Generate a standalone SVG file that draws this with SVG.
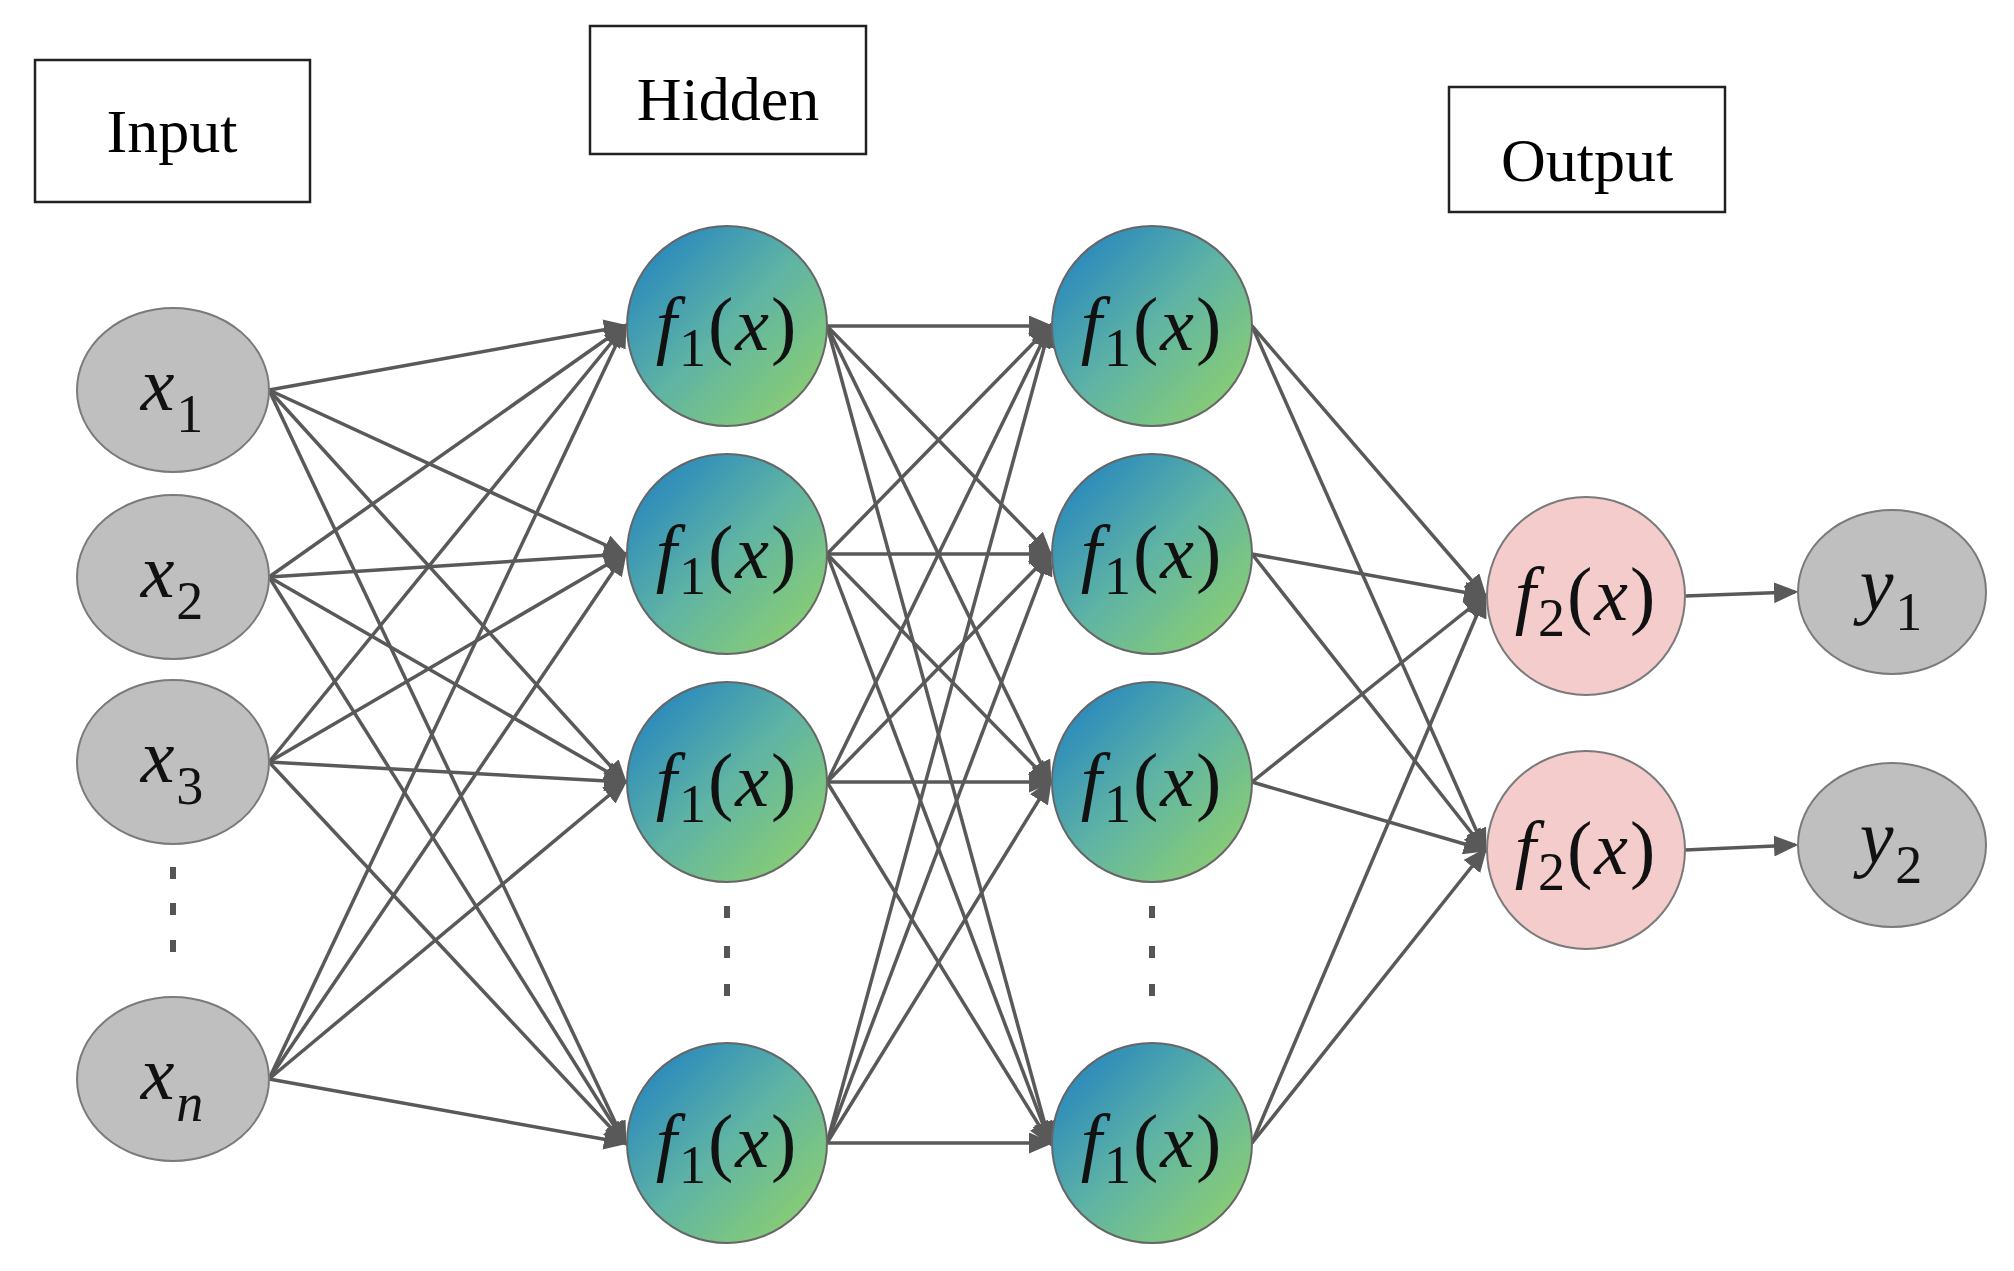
<svg xmlns="http://www.w3.org/2000/svg" width="2014" height="1271" viewBox="0 0 2014 1271">
<style>
.box{fill:#fff;stroke:#222;stroke-width:2.5}
.lbl{font-family:"Liberation Serif",serif;font-size:62px;fill:#000;text-anchor:middle}
.gray{fill:#bfbfbf;stroke:#7a7a7a;stroke-width:2}
.hid{fill:url(#g);stroke:#666;stroke-width:2}
.pink{fill:#f4cccc;stroke:#7a7a7a;stroke-width:2}
.m{font-family:"Liberation Serif",serif;font-size:76px;fill:#111;text-anchor:middle;font-style:italic;letter-spacing:2px}
.s{font-style:normal;font-size:54px}
.e line{stroke:#595959;stroke-width:3.5;marker-end:url(#a)}
.dot{fill:#555}
</style>
<defs>
<linearGradient id="g" x1="0" y1="0" x2="1" y2="1"><stop offset="0" stop-color="#1a7cc4"/><stop offset="0.5" stop-color="#5fb4a4"/><stop offset="1" stop-color="#95d466"/></linearGradient>
<marker id="a" markerWidth="7" markerHeight="6" refX="6" refY="3" orient="auto" markerUnits="strokeWidth"><path d="M0,0L7,3L0,6Z" fill="#595959"/></marker>
</defs>
<g id="labels">
<g id="input-label"><rect class="box" x="35" y="60" width="275" height="142"/><text class="lbl" x="172" y="152">Input</text></g>
<g id="hidden-label"><rect class="box" x="590" y="26" width="276" height="128"/><text class="lbl" x="728" y="120">Hidden</text></g>
<g id="output-label"><rect class="box" x="1449" y="87" width="276" height="125"/><text class="lbl" x="1587" y="181">Output</text></g>
</g>
<g id="connectors" class="e">
<line x1="269" y1="390" x2="625" y2="326"/><line x1="269" y1="390" x2="625" y2="554"/><line x1="269" y1="390" x2="625" y2="782"/><line x1="269" y1="390" x2="625" y2="1143"/>
<line x1="269" y1="577" x2="625" y2="326"/><line x1="269" y1="577" x2="625" y2="554"/><line x1="269" y1="577" x2="625" y2="782"/><line x1="269" y1="577" x2="625" y2="1143"/>
<line x1="269" y1="762" x2="625" y2="326"/><line x1="269" y1="762" x2="625" y2="554"/><line x1="269" y1="762" x2="625" y2="782"/><line x1="269" y1="762" x2="625" y2="1143"/>
<line x1="269" y1="1079" x2="625" y2="326"/><line x1="269" y1="1079" x2="625" y2="554"/><line x1="269" y1="1079" x2="625" y2="782"/><line x1="269" y1="1079" x2="625" y2="1143"/>
<line x1="827" y1="326" x2="1050" y2="326"/><line x1="827" y1="326" x2="1050" y2="554"/><line x1="827" y1="326" x2="1050" y2="782"/><line x1="827" y1="326" x2="1050" y2="1143"/>
<line x1="827" y1="554" x2="1050" y2="326"/><line x1="827" y1="554" x2="1050" y2="554"/><line x1="827" y1="554" x2="1050" y2="782"/><line x1="827" y1="554" x2="1050" y2="1143"/>
<line x1="827" y1="782" x2="1050" y2="326"/><line x1="827" y1="782" x2="1050" y2="554"/><line x1="827" y1="782" x2="1050" y2="782"/><line x1="827" y1="782" x2="1050" y2="1143"/>
<line x1="827" y1="1143" x2="1050" y2="326"/><line x1="827" y1="1143" x2="1050" y2="554"/><line x1="827" y1="1143" x2="1050" y2="782"/><line x1="827" y1="1143" x2="1050" y2="1143"/>
<line x1="1252" y1="326" x2="1485" y2="596"/><line x1="1252" y1="326" x2="1485" y2="850"/>
<line x1="1252" y1="554" x2="1485" y2="596"/><line x1="1252" y1="554" x2="1485" y2="850"/>
<line x1="1252" y1="782" x2="1485" y2="596"/><line x1="1252" y1="782" x2="1485" y2="850"/>
<line x1="1252" y1="1143" x2="1485" y2="596"/><line x1="1252" y1="1143" x2="1485" y2="850"/>
<line x1="1685" y1="596" x2="1795" y2="592"/><line x1="1685" y1="850" x2="1795" y2="845"/>
</g>
<g id="x1"><ellipse class="gray" cx="173" cy="390" rx="96" ry="82"/><text class="m" x="173" y="410">x<tspan class="s" dy="22">1</tspan></text></g>
<g id="x2"><ellipse class="gray" cx="173" cy="577" rx="96" ry="82"/><text class="m" x="173" y="597">x<tspan class="s" dy="22">2</tspan></text></g>
<g id="x3"><ellipse class="gray" cx="173" cy="762" rx="96" ry="82"/><text class="m" x="173" y="782">x<tspan class="s" dy="22">3</tspan></text></g>
<g id="xn"><ellipse class="gray" cx="173" cy="1079" rx="96" ry="82"/><text class="m" x="173" y="1099">x<tspan class="s" style="font-style:italic" dy="22">n</tspan></text></g>
<g id="dots"><rect class="dot" x="170" y="867" width="6" height="12"/><rect class="dot" x="170" y="903" width="6" height="12"/><rect class="dot" x="170" y="940" width="6" height="12"/>
<rect class="dot" x="724" y="906" width="6" height="12"/><rect class="dot" x="724" y="946" width="6" height="12"/><rect class="dot" x="724" y="984" width="6" height="12"/>
<rect class="dot" x="1149" y="906" width="6" height="12"/><rect class="dot" x="1149" y="946" width="6" height="12"/><rect class="dot" x="1149" y="984" width="6" height="12"/></g>
<g id="h1a"><circle class="hid" cx="727" cy="326" r="100"/><text class="m" x="727" y="350">f<tspan class="s" dy="16">1</tspan><tspan dy="-16" style="font-style:normal">(</tspan>x<tspan style="font-style:normal">)</tspan></text></g>
<g id="h1b"><circle class="hid" cx="727" cy="554" r="100"/><text class="m" x="727" y="578">f<tspan class="s" dy="16">1</tspan><tspan dy="-16" style="font-style:normal">(</tspan>x<tspan style="font-style:normal">)</tspan></text></g>
<g id="h1c"><circle class="hid" cx="727" cy="782" r="100"/><text class="m" x="727" y="806">f<tspan class="s" dy="16">1</tspan><tspan dy="-16" style="font-style:normal">(</tspan>x<tspan style="font-style:normal">)</tspan></text></g>
<g id="h1d"><circle class="hid" cx="727" cy="1143" r="100"/><text class="m" x="727" y="1167">f<tspan class="s" dy="16">1</tspan><tspan dy="-16" style="font-style:normal">(</tspan>x<tspan style="font-style:normal">)</tspan></text></g>
<g id="h2a"><circle class="hid" cx="1152" cy="326" r="100"/><text class="m" x="1152" y="350">f<tspan class="s" dy="16">1</tspan><tspan dy="-16" style="font-style:normal">(</tspan>x<tspan style="font-style:normal">)</tspan></text></g>
<g id="h2b"><circle class="hid" cx="1152" cy="554" r="100"/><text class="m" x="1152" y="578">f<tspan class="s" dy="16">1</tspan><tspan dy="-16" style="font-style:normal">(</tspan>x<tspan style="font-style:normal">)</tspan></text></g>
<g id="h2c"><circle class="hid" cx="1152" cy="782" r="100"/><text class="m" x="1152" y="806">f<tspan class="s" dy="16">1</tspan><tspan dy="-16" style="font-style:normal">(</tspan>x<tspan style="font-style:normal">)</tspan></text></g>
<g id="h2d"><circle class="hid" cx="1152" cy="1143" r="100"/><text class="m" x="1152" y="1167">f<tspan class="s" dy="16">1</tspan><tspan dy="-16" style="font-style:normal">(</tspan>x<tspan style="font-style:normal">)</tspan></text></g>
<g id="o1"><circle class="pink" cx="1586" cy="596" r="99"/><text class="m" x="1586" y="620">f<tspan class="s" dy="16">2</tspan><tspan dy="-16" style="font-style:normal">(</tspan>x<tspan style="font-style:normal">)</tspan></text></g>
<g id="o2"><circle class="pink" cx="1586" cy="850" r="99"/><text class="m" x="1586" y="874">f<tspan class="s" dy="16">2</tspan><tspan dy="-16" style="font-style:normal">(</tspan>x<tspan style="font-style:normal">)</tspan></text></g>
<g id="y1"><ellipse class="gray" cx="1892" cy="592" rx="94" ry="82"/><text class="m" x="1892" y="610">y<tspan class="s" dy="20">1</tspan></text></g>
<g id="y2"><ellipse class="gray" cx="1892" cy="845" rx="94" ry="82"/><text class="m" x="1892" y="863">y<tspan class="s" dy="20">2</tspan></text></g>
</svg>
